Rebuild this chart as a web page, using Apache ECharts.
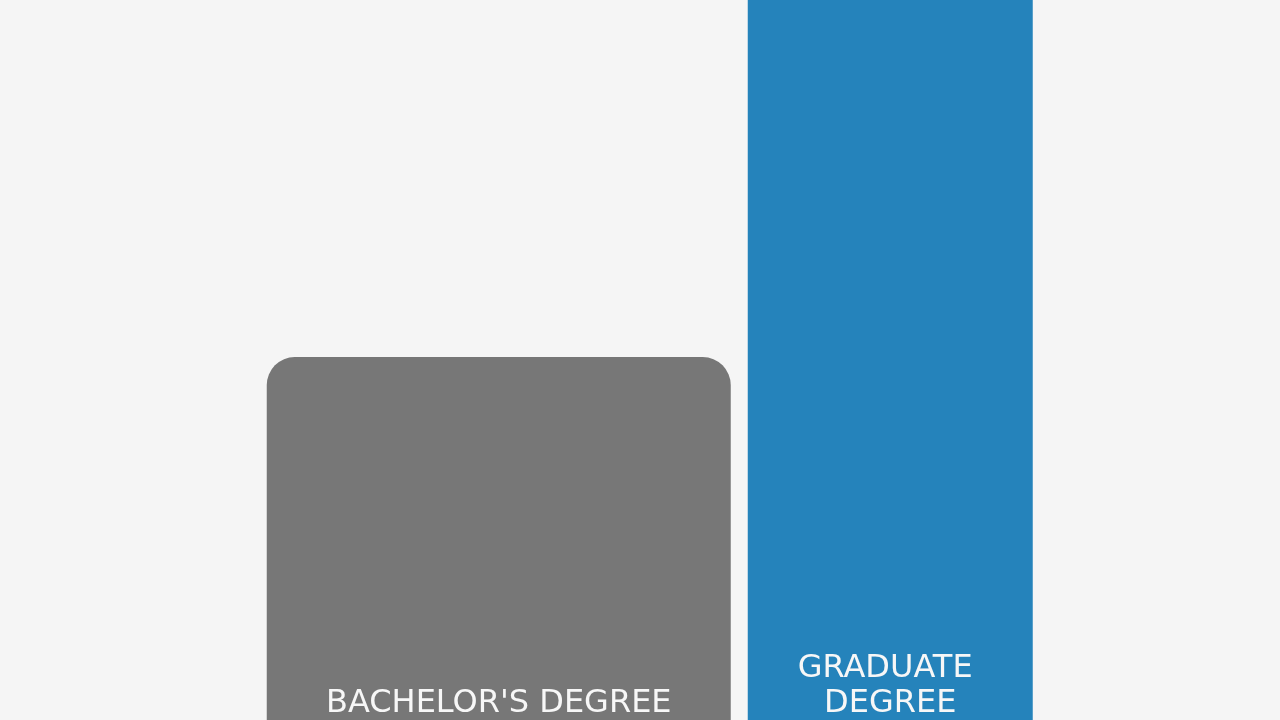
<!DOCTYPE html>
<html>
<head>
<meta charset="utf-8">
<title>Degree chart</title>
<script src="https://cdn.jsdelivr.net/npm/echarts@6/dist/echarts.min.js"></script>
<style>
  html, body { margin: 0; padding: 0; background: #f5f5f5; }
  #chart { width: 1280px; height: 720px; }
</style>
</head>
<body>
<div id="chart"></div>
<script>
const categories = ["BACHELOR'S DEGREE", "GRADUATE DEGREE"];
const values = [50.4, 105];

const palette = ["#777777", "#2583bb"];
const barWidths = [464, 285];

const chart = echarts.init(document.getElementById("chart"));

const renderBar = (params, api) => {
  const idx = api.value(0);
  const top = api.coord([idx, api.value(1)]);
  const base = api.coord([idx, 0]);
  const w = barWidths[idx];
  const x = top[0] - w / 2;
  return {
    type: "group",
    children: [
      {
        type: "rect",
        shape: { x: x, y: top[1], width: w, height: base[1] - top[1], r: [28, 28, 0, 0] },
        style: { fill: api.visual("color") },
      },
      {
        type: "text",
        x: top[0],
        y: base[1] + 1,
        style: {
          text: categories[idx],
          fill: "#f7f7f7",
          font: "32px 'DejaVu Sans'",
          lineHeight: 35,
          align: "center",
          verticalAlign: "bottom",
          width: w - 60,
          overflow: "break",
        },
      },
    ],
  };
};

const option = {
  backgroundColor: "#f5f5f5",
  animation: false,
  grid: { left: 303, right: 194, top: 0, bottom: 0 },
  xAxis: {
    type: "category",
    data: categories,
    show: false,
  },
  yAxis: {
    type: "value",
    min: 0,
    max: 100,
    show: false,
  },
  series: [
    {
      type: "custom",
      renderItem: renderBar,
      clip: false,
      data: values.map((v, i) => ({ value: [i, v], itemStyle: { color: palette[i] } })),
    },
  ],
};

chart.setOption(option);
</script>
</body>
</html>
